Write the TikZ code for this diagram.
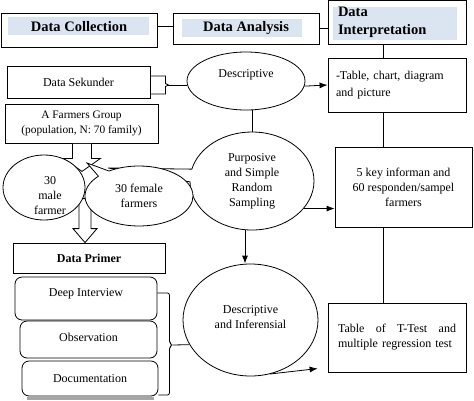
\documentclass[tikz,border=0pt]{standalone}
\usepackage{fontspec}
\setmainfont{Liberation Serif}
\newfontfamily\tnr{Liberation Serif}
\usetikzlibrary{shapes.geometric,shapes.callouts,arrows.meta}
\definecolor{band}{HTML}{DBE5F1}
\newcommand\lift[2]{\raisebox{#1}[\height][\depth]{#2}}
\begin{document}
\begin{tikzpicture}[x=1pt,y=-1pt,line width=0.8pt,
  every node/.style={font=\tnr\fontsize{12}{15}\selectfont,inner sep=0pt},
  hbox/.style={draw,rectangle,font=\tnr\fontsize{14.5}{18}\selectfont\bfseries},
  sbox/.style={draw,rectangle,align=center},
  rbox/.style={draw,rectangle,rounded corners=7pt,fill=white},
  oval/.style={draw,ellipse,fill=white},
  cloud/.style={draw,ellipse callout,fill=white,align=center,callout pointer arc=15},
  arr/.style={-{Latex[length=8pt,width=6pt]}},
  blk/.style={draw,fill=white,line join=miter}]
\useasboundingbox (0,0) rectangle (474,400);

% header bands
\fill[band] (8,17) rectangle (149,35);
\fill[band] (182,19) rectangle (302,37);
\fill[band] (333,7) rectangle (457,40);

% header boxes
\node[hbox,minimum width=156pt,minimum height=34pt] (hc) at (79,30) {\lift{3.5pt}{Data Collection}};
\node[hbox,minimum width=146pt,minimum height=31pt] (ha) at (246,28.5) {Data Analysis};
\node[hbox,minimum width=138pt,minimum height=43.5pt,text width=118pt,align=left] (hi) at (397,22.25) {Data\\Interpretation};

% upper row
\node[sbox,minimum width=138pt,minimum height=54pt,text width=122pt,align=left,font=\tnr\fontsize{12}{17}\selectfont] (tb) at (397,85) {-Table, chart, diagram\\and picture};
\node[sbox,minimum width=143pt,minimum height=32pt] (ds) at (78.5,82) {Data Sekunder};
\node[sbox,minimum width=153pt,minimum height=39pt,font=\tnr\fontsize{11.4}{15}\selectfont] (fg) at (81.5,123.5) {A Farmers Group\\(population, N: 70 family)};
\node[oval,minimum width=118pt,minimum height=58pt] (de) at (246,81) {\lift{6pt}{Descriptive}};
\node[sbox,minimum width=152pt,minimum height=30pt,font=\tnr\fontsize{12}{15}\selectfont\bfseries] (dp) at (89,258) {Data Primer};

% block arrows (behind the ovals)
\draw[blk] (fg.south) ++(-9,0.4) -- ++(0,14.6) -- ++(-9,0) -- ++(18.5,13) -- ++(18.5,-13) -- ++(-9,0) -- ++(0,-14.6);
\draw[blk] ([xshift=-4pt]dp.north) -- ++(-12,-14) -- ++(6,0) -- ++(0,-30) -- ++(12,0) -- ++(0,30) -- ++(6,0) -- cycle;

% sample ovals
\coordinate (putip) at (108,168);
\coordinate (fetip) at (87,163);
\node[oval,minimum width=82pt,minimum height=65pt] (mc) at (44,187.5) {\lift{-8.5pt}{\hspace*{12pt}\begin{tabular}{@{}c@{}}30\\male\\farmer\end{tabular}}};
\node[cloud,minimum width=124pt,minimum height=98pt,callout absolute pointer={(putip)}] (pu) at (252,181) {Purposive\\and Simple\\Random\\Sampling};
\node[cloud,minimum width=108pt,minimum height=60pt,callout absolute pointer={(fetip)}] (fe) at (139,196) {30 female\\farmers};

% right column and lower part
\node[sbox,minimum width=137pt,minimum height=80pt] (kb) at (403.5,187) {5 key informan and\\60 responden/sampel\\farmers};
\node[sbox,minimum width=138pt,minimum height=69pt,text width=118pt,align=left] (tt) at (397,337.5) {Table\hfill of\hfill T-Test\hfill and\\multiple regression test};
\node[oval,align=center,minimum width=135pt,minimum height=112pt] (di) at (250.5,320) {\lift{3pt}{Descriptive}\\\lift{3pt}{and Inferensial}};

\node[rbox,minimum width=142pt,minimum height=43pt] (dint) at (86,298.5) {\lift{4.5pt}{Deep Interview}};
\node[rbox,minimum width=137pt,minimum height=37pt] (obs) at (88.5,339.5) {\lift{2.5pt}{Observation}};
\node[rbox,minimum width=136pt,minimum height=35pt] (doc) at (90,378.5) {Documentation};
\fill[gray!70] ([xshift=5pt,yshift=-0.4pt]doc.south west) rectangle ([xshift=-4pt,yshift=-3.2pt]doc.south east);

% connectors
\draw ([yshift=4pt]hc.east) -- ([yshift=4pt]hc.east -| ha.west);
\draw ([yshift=0.5pt]ha.east) -- ([yshift=0.5pt]ha.east -| hi.west);
\draw ([xshift=-14pt]hi.south) -- ([xshift=-14pt]tb.north);
\draw[arr] (de.-5) -- (tb.west);
\draw (de.south -| pu.north) -- (pu.north);
\draw ([yshift=6pt]ds.east) -- ++(15,0) -- ++(0,7.5) -- ++(3,1.5) coordinate (dsb) -- ++(-3,1.5) -- ++(0,7.5) -- ++(-15,0);
\draw (dsb) -- (dsb -| de.west);
\draw[arr] (pu.-28) -- (pu.-28 -| kb.west);
\draw ([xshift=-14pt]tb.south) -- ([xshift=-14pt]tb.south |- kb.north);
\draw ([xshift=-14pt]tt.north |- kb.south) -- ([xshift=-14pt]tt.north);
\draw[arr] ([xshift=-7pt]pu.south) -- ([xshift=-7pt]pu.south |- di.north);
\draw[arr,shorten >=10pt] (di.-70) -- ([yshift=5pt]tt.south west);
\draw[rounded corners=2pt] ([yshift=5.5pt]dint.east) -- ++(12,0) -- ++(0,50) -- ++(3,2) coordinate (bt) -- ++(-3,2) -- ++(0,48) -- ++(-11,0);
\draw (bt) -- (di.202);
\end{tikzpicture}
\end{document}
